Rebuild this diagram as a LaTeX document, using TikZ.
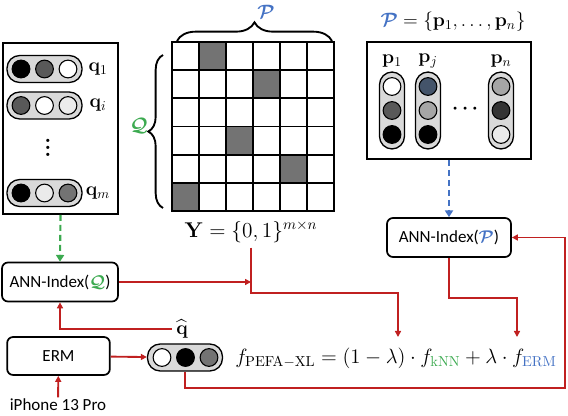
\RequirePackage{fix-cm}
\documentclass[tikz,border=0pt]{standalone}
\usepackage[no-math]{fontspec}
\newfontfamily\calibri{Carlito}
\usepackage{amsmath}
\usetikzlibrary{arrows.meta,decorations.pathreplacing,fit}
\definecolor{pefared}{RGB}{192,32,32}
\definecolor{pefagreen}{RGB}{60,170,80}
\definecolor{pefablue}{RGB}{68,114,196}
\definecolor{slate}{RGB}{68,84,106}
\begin{document}
\begin{tikzpicture}[x=0.75pt,y=0.75pt,yscale=-1,xscale=1,
  pill/.style={draw,line width=1pt,fill=black!15,rounded corners=9.5pt,inner sep=0},
  hpill/.style={pill,minimum width=56.25pt,minimum height=20.25pt},
  vpill/.style={pill,minimum width=18.75pt,minimum height=57.75pt},
  dot/.style={circle,draw,line width=0.8pt,inner sep=0,minimum size=13.3pt},
  rbox/.style={draw,line width=1.3pt,rounded corners=4.5pt,inner sep=0,minimum height=29.25pt,font=\calibri\fontsize{12.75}{15}\selectfont},
  flow/.style={pefared,line width=1.4pt,-{Triangle[length=4.5pt,width=4.5pt]}},
  lbl/.style={font=\fontsize{14.5}{16}\selectfont}
]
\path[use as bounding box] (0,0) rectangle (568,416);

%Shape: Rectangle [id:qbox]
\node[draw,line width=1.3pt,fit={(3,43) (118,214)},inner sep=0] (qbox) {};
%Shape: Pills of Q
\foreach \nm/\yy/\ca/\cb/\cc/\lab in {qone/69/black/black!65/white/1, qi/105.5/black!65/white/black!8/i, qm/193/black/black!8/black!55/m}{
  \node[hpill] (\nm) at (44.5,\yy) {};
  \node[dot,fill=\ca] at (21,\yy) {};
  \node[dot,fill=\cb] at (44.5,\yy) {};
  \node[dot,fill=\cc] at (68,\yy) {};
  \node[lbl] (\nm lbl) at (98,\yy) {$\mathbf{q}_{\lab}$};
}
% Text Node
\node[font=\bfseries\fontsize{17}{5.4}\selectfont,align=center,inner sep=0] (qdots) at (48,148) {.\\.\\.};

%Shape: Grid of Y
\foreach \r in {0,...,5}
  \foreach \c in {0,...,5}
    \draw[line width=1.4pt] (172+\c*27,42+\r*28.17) rectangle ++(27,28.17);
\foreach \c/\r in {1/0,3/1,2/3,4/4,0/5}
  \draw[line width=1.4pt,fill=black!55] (172+\c*27,42+\r*28.17) rectangle ++(27,28.17);
%Shape: Braces
\draw[line width=1.4pt,decorate,decoration={brace,amplitude=14pt}] (177,41) -- (332,41);
\draw[line width=1.4pt,decorate,decoration={brace,amplitude=11pt}] (163,208) -- (163,55);
% Text Node
\node[lbl,pefablue] (ptop) at (266,12) {$\boldsymbol{\mathcal{P}}$};
% Text Node
\node[lbl,pefagreen] (qside) at (139,126) {$\boldsymbol{\mathcal{Q}}$};
% Text Node
\node[font=\fontsize{16}{18}\selectfont] (ylbl) at (251,232) {$\mathbf{Y}=\{0,1\}^{m\times n}$};

% Text Node
\node[lbl] (ptitle) at (453,22) {$\textcolor{pefablue}{\boldsymbol{\mathcal{P}}}=\{\mathbf{p}_1,\ldots,\mathbf{p}_n\}$};
%Shape: Rectangle [id:pbox]
\node[draw,line width=1.3pt,fit={(367,42) (531,159)},inner sep=0] (pbox) {};
%Shape: Pills of P
\foreach \nm/\xx/\ca/\cb/\cc/\lab in {pone/392/white/black!65/black/1, pj/428/slate/black!35/black/j, pn/501/black!35/black!80/black!8/n}{
  \node[vpill] (\nm) at (\xx,110.5) {};
  \node[dot,fill=\ca] at (\xx,86.5) {};
  \node[dot,fill=\cb] at (\xx,110.5) {};
  \node[dot,fill=\cc] at (\xx,134.5) {};
  \node[lbl] (\nm lbl) at (\xx,61) {$\mathbf{p}_{\lab}$};
}
% Text Node
\node[lbl] (pdots) at (467,109) {$\boldsymbol{\cdots}$};

%Shape: Boxes
\node[rbox,minimum width=87pt] (annq) at (60,282) {ANN-Index(\textcolor{pefagreen}{$\boldsymbol{\mathcal{Q}}$})};
\node[rbox,minimum width=93pt] (annp) at (449,237.5) {ANN-Index(\textcolor{pefablue}{$\boldsymbol{\mathcal{P}}$})};
\node[rbox,minimum width=77pt,minimum height=28.5pt] (erm) at (58.5,356) {ERM};
% Text Node
\node[font=\calibri\fontsize{12.75}{15}\selectfont,inner sep=1pt] (iphone) at (58,405) {iPhone 13 Pro};

%Shape: Pill q hat
\node[hpill] (qhat) at (185,357.5) {};
\node[dot,fill=white] at (162,357.5) {};
\node[dot,fill=black] at (185.5,357.5) {};
\node[dot,fill=black!55] at (209,357.5) {};
% Text Node
\node[lbl] (qhatlbl) at (182,329) {$\widehat{\mathbf{q}}$};

% Text Node
\node[font=\fontsize{15.5}{18}\selectfont,anchor=west,inner sep=0] (formula) at (235,358) {$f_{\mathrm{PEFA}-\mathrm{XL}}=(1-\lambda)\cdot f_{\textcolor{pefagreen}{\mathrm{kNN}}}+\lambda\cdot f_{\textcolor{pefablue}{\mathrm{ERM}}}$};

\coordinate (knnin) at (398,337);
\coordinate (ermin) at (517,337);
\coordinate (ykink) at (398,293);
\coordinate (rloop) at (565,388);

%Straight Lines
\draw[pefagreen,line width=1.6pt,dash pattern=on 4.5pt off 3pt,-{Triangle[length=5pt,width=6pt]}] (qbox.south) -- (annq.north);
\draw[pefablue,line width=1.6pt,dash pattern=on 4.5pt off 3pt,-{Triangle[length=5pt,width=6pt]}] (pbox.south) -- (annp.north);
\draw[flow] (iphone) -- (erm);
\draw[flow] (erm) -- (qhat);
\draw[flow] (qhatlbl.west) -| (annq.south);
\draw[flow] (annq.east) -- (annq.east -| ylbl.south);
\draw[flow] (ylbl.south) |- (ykink) -- (knnin);
\draw[flow] (annp.south) -- ++(0,40) -| (ermin);
\draw[flow] (qhat.south) |- (rloop) |- (annp.east);

\end{tikzpicture}
\end{document}
